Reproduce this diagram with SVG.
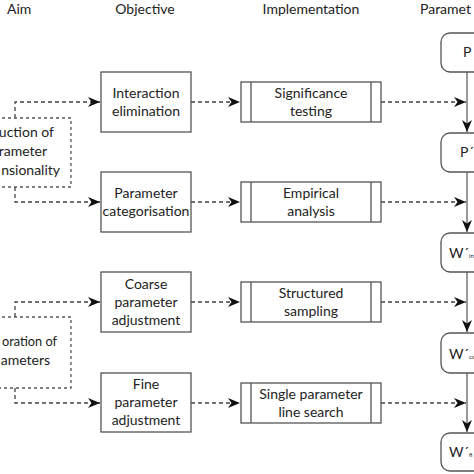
<svg xmlns="http://www.w3.org/2000/svg" width="474" height="474" viewBox="0 0 474 474">
<style>
text{font-family:Lato,"Open Sans","Liberation Sans",sans-serif;font-size:14px;fill:#222;}
.c{text-anchor:middle;}
.e{text-anchor:end;}
.box{fill:#fff;stroke:#555;stroke-width:1.3;}
.aim{fill:none;stroke:#555;stroke-width:1.3;stroke-dasharray:3,3;}
.dash{fill:none;stroke:#444;stroke-width:1.3;stroke-dasharray:4,3;}
.solid{fill:none;stroke:#777;stroke-width:1.5;}
.sub{font-size:6px;}
</style>
<defs>
<marker id="ah" markerWidth="14" markerHeight="12" refX="12" refY="5" orient="auto" markerUnits="userSpaceOnUse">
<path d="M0,0 L12,5 L0,10 L3.5,5 z" fill="#111"/>
</marker>
</defs>
<rect width="474" height="474" fill="#fff"/>
<g id="headers">
<text x="7" y="14">Aim</text>
<text class="c" x="145" y="14">Objective</text>
<text class="c" x="311" y="14">Implementation</text>
<text x="420" y="14">Paramet</text>
</g>
<g id="connectors">
<path class="dash" d="M15,118 V102 H100" marker-end="url(#ah)"/>
<path class="dash" d="M15,187 V202 H100" marker-end="url(#ah)"/>
<path class="dash" d="M15,317 V302 H100" marker-end="url(#ah)"/>
<path class="dash" d="M15,388 V403 H100" marker-end="url(#ah)"/>
<path class="dash" d="M191,102 H240" marker-end="url(#ah)"/>
<path class="dash" d="M191,202 H240" marker-end="url(#ah)"/>
<path class="dash" d="M191,302 H240" marker-end="url(#ah)"/>
<path class="dash" d="M191,403 H240" marker-end="url(#ah)"/>
<path class="dash" d="M381,102 H466" marker-end="url(#ah)"/>
<path class="dash" d="M381,202 H466" marker-end="url(#ah)"/>
<path class="dash" d="M381,302 H466" marker-end="url(#ah)"/>
<path class="dash" d="M381,403 H466" marker-end="url(#ah)"/>
<path class="solid" d="M467,72 V132" marker-end="url(#ah)"/>
<path class="solid" d="M467,172 V232" marker-end="url(#ah)"/>
<path class="solid" d="M467,272 V332" marker-end="url(#ah)"/>
<path class="solid" d="M467,373 V432" marker-end="url(#ah)"/>
</g>
<g id="aim1">
<rect class="aim" x="-10" y="118" width="81" height="69"/>
<text class="e" x="54" y="137">uction of</text>
<text class="e" x="47" y="156">rameter</text>
<text class="e" x="60" y="175">nsionality</text>
</g>
<g id="aim2">
<rect class="aim" x="-10" y="317" width="81" height="71"/>
<text x="2" y="346" textLength="55" lengthAdjust="spacingAndGlyphs">oration of</text>
<text class="e" x="50" y="365">ameters</text>
</g>
<g id="obj1">
<rect class="box" x="101" y="72" width="90" height="60"/>
<text class="c" x="146" y="98">Interaction</text>
<text class="c" x="146" y="116">elimination</text>
</g>
<g id="obj2">
<rect class="box" x="101" y="172" width="90" height="60"/>
<text class="c" x="146" y="198">Parameter</text>
<text class="c" x="146" y="216">categorisation</text>
</g>
<g id="obj3">
<rect class="box" x="101" y="272" width="90" height="60"/>
<text class="c" x="146" y="289">Coarse</text>
<text class="c" x="146" y="307">parameter</text>
<text class="c" x="146" y="325">adjustment</text>
</g>
<g id="obj4">
<rect class="box" x="101" y="373" width="90" height="59"/>
<text class="c" x="146" y="389">Fine</text>
<text class="c" x="146" y="407">parameter</text>
<text class="c" x="146" y="425">adjustment</text>
</g>
<g id="impl1">
<rect class="box" x="241" y="82" width="140" height="40"/>
<path class="box" d="M251,82 V122 M371,82 V122"/>
<text class="c" x="311" y="98">Significance</text>
<text class="c" x="311" y="116">testing</text>
</g>
<g id="impl2">
<rect class="box" x="241" y="182" width="140" height="40"/>
<path class="box" d="M251,182 V222 M371,182 V222"/>
<text class="c" x="311" y="198">Empirical</text>
<text class="c" x="311" y="216">analysis</text>
</g>
<g id="impl3">
<rect class="box" x="241" y="282" width="140" height="40"/>
<path class="box" d="M251,282 V322 M371,282 V322"/>
<text class="c" x="311" y="298">Structured</text>
<text class="c" x="311" y="316">sampling</text>
</g>
<g id="impl4">
<rect class="box" x="241" y="383" width="140" height="40"/>
<path class="box" d="M251,383 V423 M371,383 V423"/>
<text class="c" x="311" y="399">Single parameter</text>
<text class="c" x="311" y="417">line search</text>
</g>
<g id="par1">
<rect class="box" x="441" y="33" width="60" height="39" rx="9"/>
<text x="463" y="57">P</text>
</g>
<g id="par2">
<rect class="box" x="441" y="133" width="60" height="39" rx="9"/>
<text x="460" y="157">P´</text>
</g>
<g id="par3">
<rect class="box" x="441" y="233" width="60" height="39" rx="9"/>
<text x="449" y="258">W´<tspan class="sub">in</tspan></text>
</g>
<g id="par4">
<rect class="box" x="441" y="333" width="60" height="40" rx="9"/>
<text x="449" y="359">W´<tspan class="sub">co</tspan></text>
</g>
<g id="par5">
<rect class="box" x="441" y="433" width="60" height="38" rx="9"/>
<text x="449" y="457">W´<tspan class="sub">fi</tspan></text>
</g>
</svg>
